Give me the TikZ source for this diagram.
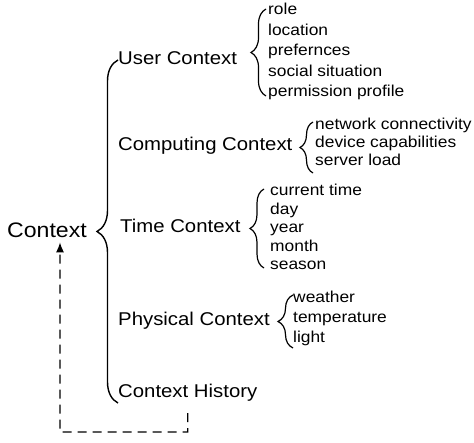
\documentclass[tikz,border=0pt]{standalone}
\usepackage{fontspec}
\setmainfont[FakeStretch=1.1]{Liberation Sans}
\usetikzlibrary{decorations.pathreplacing,arrows.meta}
\tikzset{
  mainlbl/.style={inner sep=0pt, anchor=base west, font=\fontsize{18.5}{20}\selectfont},
  biglbl/.style={inner sep=0pt, anchor=base west, font=\fontsize{21}{23}\selectfont},
  itemlbl/.style={inner sep=0pt, anchor=base west, font=\fontsize{15.8}{18}\selectfont},
  bracestyle/.style={line width=1.4pt, decorate},
  dashline/.style={line width=1.2pt, dash pattern=on 9pt off 6pt, -{Latex[length=10pt,width=8pt]}}
}
\begin{document}
\begin{tikzpicture}[x=1pt,y=-1pt]
\useasboundingbox (0,0) rectangle (474,443);
% main labels
\node[biglbl] (ctx) at (7,238) {Context};
\node[mainlbl] (user) at (118,65) {User Context};
\node[mainlbl] (comp) at (118,151) {Computing Context};
\node[mainlbl] (time) at (120,233) {Time Context};
\node[mainlbl] (phys) at (118,326) {Physical Context};
\node[mainlbl] (hist) at (118,398) {Context History};
% user items
\node[itemlbl] (u1) at (268,15) {role};
\node[itemlbl] (u2) at (268,35.5) {location};
\node[itemlbl] (u3) at (268,56) {prefernces};
\node[itemlbl] (u4) at (268,76.5) {social situation};
\node[itemlbl] (u5) at (268,97) {permission profile};
% computing items
\node[itemlbl] (c1) at (315,130) {network connectivity};
\node[itemlbl] (c2) at (315,148) {device capabilities};
\node[itemlbl] (c3) at (315,166) {server load};
% time items
\node[itemlbl] (t1) at (270,196) {current time};
\node[itemlbl] (t2) at (270,214.5) {day};
\node[itemlbl] (t3) at (270,233) {year};
\node[itemlbl] (t4) at (270,251.5) {month};
\node[itemlbl] (t5) at (270,270) {season};
% physical items
\node[itemlbl] (p1) at (293,303) {weather};
\node[itemlbl] (p2) at (293,323) {temperature};
\node[itemlbl] (p3) at (293,343) {light};
% brace end points
\coordinate (bigB) at (118,403);
\coordinate (bigT) at (118,60);
\coordinate (usrB) at (266,96);
\coordinate (usrT) at (266,9);
\coordinate (cmpB) at (313,173);
\coordinate (cmpT) at (313,122);
\coordinate (timB) at (264,268);
\coordinate (timT) at (264,189);
\coordinate (phyB) at (293,348);
\coordinate (phyT) at (293,295);
% braces
\draw[bracestyle, decoration={brace, amplitude=21pt}] (bigB) -- (bigT);
\draw[bracestyle, line width=1.2pt, decoration={brace, amplitude=15pt}] (usrB) -- (usrT);
\draw[bracestyle, line width=1.2pt, decoration={brace, amplitude=13pt}] (cmpB) -- (cmpT);
\draw[bracestyle, line width=1.2pt, decoration={brace, amplitude=14pt}] (timB) -- (timT);
\draw[bracestyle, line width=1.2pt, decoration={brace, amplitude=15pt}] (phyB) -- (phyT);
% dashed feedback arrow
\coordinate (corner) at (60,432);
\draw[dashline] ([yshift=-11pt]hist.south) |- (corner) -- ([xshift=13pt,yshift=-4pt]ctx.south);
\end{tikzpicture}
\end{document}
